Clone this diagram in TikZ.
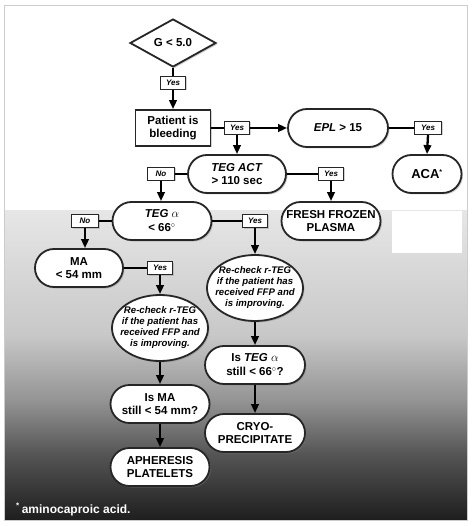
\documentclass[tikz,border=0pt]{standalone}
\usepackage{fontspec}
\setmainfont{Liberation Sans}
\usetikzlibrary{shapes.geometric,shapes.misc,arrows.meta,shadows}
\definecolor{bgA}{HTML}{E6E6E6}
\definecolor{bgB}{HTML}{C8C8C8}
\definecolor{bgC}{HTML}{949494}
\definecolor{bgD}{HTML}{545454}
\definecolor{bgE}{HTML}{1E1E1E}
\begin{document}
\begin{tikzpicture}[x=1pt,y=-1pt,
  box/.style={draw=black!85, line width=1.8pt, fill=white, align=center,
    font=\bfseries\fontsize{11.5}{13}\selectfont,
    drop shadow={opacity=0.35,shadow xshift=1.5pt,shadow yshift=-1.5pt}},
  pill/.style={box, rounded rectangle, minimum height=38pt, inner sep=0pt},
  oval/.style={box, ellipse, inner xsep=-6pt, inner ysep=0pt, minimum width=96pt, minimum height=66pt,
    font=\bfseries\itshape\fontsize{9.6}{11}\selectfont},
  lab/.style={draw=black!85, line width=1.3pt, fill=white, inner sep=0pt,
    minimum height=13pt, minimum width=25pt,
    font=\bfseries\itshape\fontsize{8}{8}\selectfont,
    drop shadow={opacity=0.35,shadow xshift=1pt,shadow yshift=-1pt}},
  conn/.style={line width=2.3pt, black},
  arr/.style={conn, -{Triangle[width=7.5pt,length=9pt]}}
]
\useasboundingbox (0,0) rectangle (474,526);
% background panel
\fill[white] (0,0) rectangle (474,526);
\fill[top color=bgA, bottom color=bgB] (5,211) rectangle (467,335);
\fill[top color=bgB, bottom color=bgC] (5,335) rectangle (467,400);
\fill[top color=bgC, bottom color=bgD] (5,400) rectangle (467,455);
\fill[top color=bgD, bottom color=bgE] (5,455) rectangle (467,520);
\fill[white] (392,211) rectangle (462,253);
\draw[black!20, line width=1pt] (4.5,6) rectangle (467.5,520.5);

% nodes
\node[box, diamond, minimum width=86pt, minimum height=48pt, inner sep=0pt] (g) at (173,43) {G < 5.0};
\node[lab] (y1) at (173,83) {Yes};
\node[box, rectangle, minimum width=75pt, minimum height=36pt, inner sep=0pt] (pat) at (173,128) {Patient is\\bleeding};
\node[lab] (y2) at (237,128) {Yes};
\node[pill, minimum width=100pt] (epl) at (338,128) {\textit{EPL} > 15};
\node[lab, minimum width=27pt] (y3) at (428,128) {Yes};
\node[pill, minimum width=69pt, font=\bfseries\fontsize{13}{14}\selectfont] (aca) at (427,174) {ACA\textsuperscript{\scriptsize*}};
\node[pill, minimum width=98pt] (act) at (237,174) {\textit{TEG ACT}\\> 110 sec};
\node[lab, minimum width=27pt] (n1) at (161,174) {No};
\node[lab] (y4) at (331,174) {Yes};
\node[pill, minimum width=99pt] (ffp) at (331,221) {FRESH FROZEN\\PLASMA};
\node[pill, minimum width=99pt] (alpha) at (162,221) {\textit{TEG} $\alpha$\\[1pt]< 66$^{\circ}$};
\node[lab, minimum width=27pt] (n2) at (85,221) {No};
\node[lab] (y5) at (255,221) {Yes};
\node[pill, minimum width=88pt] (ma) at (79,268) {MA\\< 54 mm};
\node[lab] (y6) at (160,268) {Yes};
\node[oval] (rc1) at (255,288) {Re-check \textit{r}-TEG\\if the patient has\\received FFP and\\is improving.};
\node[oval] (rc2) at (160,328) {Re-check \textit{r}-TEG\\if the patient has\\received FFP and\\is improving.};
\node[pill, minimum width=100pt] (isteg) at (255,365) {Is \textit{TEG} $\alpha$\\[1pt]still < 66$^{\circ}$?};
\node[pill, minimum width=100pt] (cryo) at (255,433) {CRYO-\\PRECIPITATE};
\node[pill, minimum width=99pt] (isma) at (160,404) {Is MA\\still < 54 mm?};
\node[pill, minimum width=99pt] (aph) at (160,467) {APHERESIS\\PLATELETS};
\node[anchor=base west, text=white, font=\bfseries\fontsize{12}{12}\selectfont, inner sep=0pt] (fn) at (16,513) {\textsuperscript{*}\,aminocaproic acid.};

% connectors
\draw[conn] (g.south) -- (y1.north);
\draw[arr] (y1.south) -- (pat.north);
\draw[conn] (pat.east) -- (y2.west);
\draw[arr] (y2.east) -- (epl.west);
\draw[arr] (y2.south) -- (act.north);
\draw[conn] (epl.east) -- (y3.west);
\draw[arr] (y3.south) -- (aca.north);
\draw[conn] (act.west) -- (n1.east);
\draw[arr] (n1.south) -- (n1.south |- alpha.north);
\draw[conn] (act.east) -- (y4.west);
\draw[arr] (y4.south) -- (ffp.north);
\draw[conn] (alpha.west) -- (n2.east);
\draw[arr] (n2.south) -- (n2.south |- ma.north);
\draw[conn] (alpha.east) -- (y5.west);
\draw[arr] (y5.south) -- (rc1.north);
\draw[conn] (ma.east) -- (y6.west);
\draw[arr] (y6.south) -- (rc2.north);
\draw[arr] (rc1.south) -- (isteg.north);
\draw[arr] (isteg.south) -- (cryo.north);
\draw[arr] (rc2.south) -- (isma.north);
\draw[arr] (isma.south) -- (aph.north);
\end{tikzpicture}
\end{document}
